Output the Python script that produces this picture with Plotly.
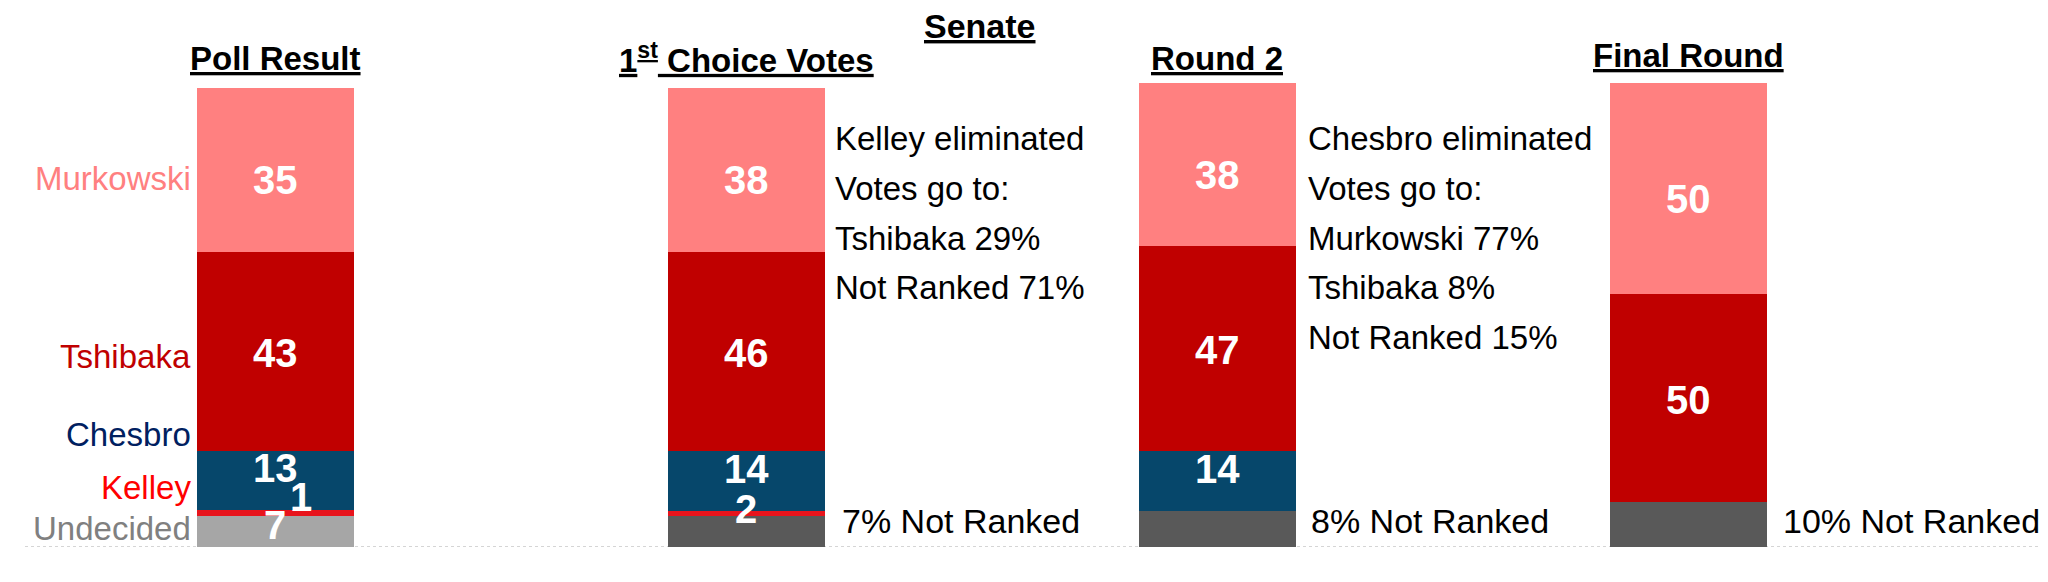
import plotly.graph_objects as go

# stacked segment sizes (% of all respondents)
rounds = ["Poll Result", "1st Choice Votes", "Round 2", "Final Round"]
murkowski = [35.6, 35.6, 35.4, 45.9]
tshibaka = [43.3, 43.3, 44.6, 45.2]
chesbro = [12.9, 13.1, 13.1, 0]
kelley = [1.3, 1.1, 0, 0]
undecided = [6.8, 6.8, 7.9, 9.9]

# numbers printed on the bars
murkowski_lbl = ["35", "38", "38", "50"]
tshibaka_lbl = ["43", "46", "47", "50"]
chesbro_lbl = ["13", "14", "14", ""]
kelley_lbl = ["1", "2", "", ""]
undecided_lbl = ["7", "", "", ""]

headers = ["<b><u>Poll Result</u></b>", "<b><u>1<sup>st</sup> Choice Votes</u></b>",
           "<b><u>Round 2</u></b>", "<b><u>Final Round</u></b>"]
note_kelley = ["Kelley eliminated", "Votes go to:", "Tshibaka 29%", "Not Ranked 71%"]
note_chesbro = ["Chesbro eliminated", "Votes go to:", "Murkowski 77%", "Tshibaka 8%", "Not Ranked 15%"]
not_ranked_notes = ["7% Not Ranked", "8% Not Ranked", "10% Not Ranked"]

FONT = "Liberation Sans Narrow, Arial Narrow, Liberation Sans, Arial, sans-serif"
C_MURK = "#FF8080"
C_TSH = "#C00000"
C_CHES = "#06476B"
C_KEL = "#E8141C"
grey_cols = ["#A6A6A6", "#595959", "#595959", "#595959"]

W, H = 2048, 582
TOP, BOT = 42, 35
PLOT_H = H - TOP - BOT


def px(x):
    return x / W


def py(y):
    return (H - BOT - y) / PLOT_H


def note(text, x, y, size, color="black", xanchor="left", xref="paper"):
    fig.add_annotation(x=x, xref=xref, y=py(y), yref="paper", text=text,
                       xanchor=xanchor, yanchor="middle", showarrow=False,
                       font=dict(family=FONT, size=size, color=color))


fig = go.Figure()
segments = [
    ("Undecided", undecided, grey_cols),
    ("Kelley", kelley, C_KEL),
    ("Chesbro", chesbro, C_CHES),
    ("Tshibaka", tshibaka, C_TSH),
    ("Murkowski", murkowski, C_MURK),
]
for name, vals, col in segments:
    fig.add_trace(go.Bar(x=rounds, y=vals, name=name, width=0.333,
                         marker=dict(color=col, line=dict(width=0)),
                         hoverinfo="x+y+name"))


# value labels on the bars
def add_labels(labels, bottoms, sizes, xshift=0, yshift=0):
    for i, t in enumerate(labels):
        if not t:
            continue
        fig.add_annotation(x=rounds[i], y=bottoms[i] + sizes[i] / 2, text="<b>" + t + "</b>",
                           showarrow=False, xshift=xshift, yshift=yshift,
                           xanchor="center", yanchor="middle",
                           font=dict(family=FONT, size=40, color="white"))


base_k = undecided
base_c = [a + b for a, b in zip(undecided, kelley)]
base_t = [a + b for a, b in zip(base_c, chesbro)]
base_m = [a + b for a, b in zip(base_t, tshibaka)]
add_labels(murkowski_lbl, base_m, murkowski, yshift=-10)
add_labels(tshibaka_lbl, base_t, tshibaka, yshift=-2)
add_labels(chesbro_lbl, base_c, chesbro, yshift=12)
add_labels(kelley_lbl[:1], base_k, kelley, xshift=26, yshift=16)
add_labels([""] + kelley_lbl[1:2], base_k, kelley, yshift=4)
add_labels(undecided_lbl, [0] * 4, undecided, yshift=6)

# column headers and title
header_y = [58, 58, 58, 55]
for i, h in enumerate(headers):
    note(h, rounds[i], header_y[i], 33, xanchor="center", xref="x")
note("<b><u>Senate</u></b>", px(980), 26, 34, xanchor="center")

# candidate names left of the first bar
names = [("Murkowski", 178, C_MURK), ("Tshibaka", 356, C_TSH), ("Chesbro", 434, "#002060"),
         ("Kelley", 487, "#FF0000"), ("Undecided", 528, "#808080")]
for t, y, c in names:
    note(t, px(193), y, 33, color=c, xanchor="right")

# elimination notes
for j, t in enumerate(note_kelley):
    note(t, px(833), 139 + 49.5 * j, 33)
for j, t in enumerate(note_chesbro):
    note(t, px(1306), 139 + 49.5 * j, 33)
for t, x in zip(not_ranked_notes, [840, 1309, 1781]):
    note(t, px(x), 521, 34)

# dotted baseline
fig.add_shape(type="line", xref="paper", x0=px(25), x1=px(2038), yref="y", y0=0, y1=0,
              line=dict(color="#C8C8C8", width=1.5, dash="dot"), layer="below")

fig.update_layout(
    width=W, height=H,
    barmode="stack",
    showlegend=False,
    plot_bgcolor="white",
    paper_bgcolor="white",
    margin=dict(l=0, r=0, t=TOP, b=BOT),
    xaxis=dict(type="category", range=[-0.584, 3.764], visible=False, fixedrange=True),
    yaxis=dict(range=[0, 110], visible=False, fixedrange=True),
    font=dict(family=FONT),
)

# page body has an 8px default margin; drop it so the figure fills the window
fig.write_html("out.html", config={"displayModeBar": False},
               post_script="document.body.style.margin='0';document.body.style.overflow='hidden';")
